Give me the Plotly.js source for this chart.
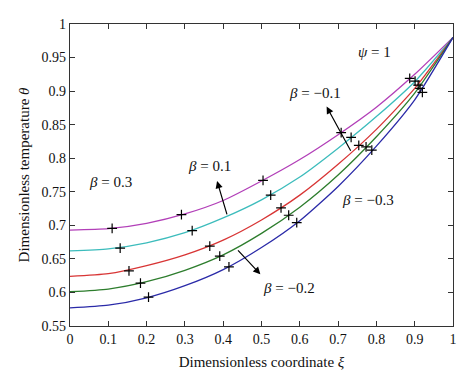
<!DOCTYPE html>
<html>
<head>
<meta charset="utf-8">
<script src="https://cdn.plot.ly/plotly-3.0.1.min.js"></script>
<style>html,body{margin:0;padding:0;background:#fff;}#chart{width:474px;height:387px;}</style>
</head>
<body>
<div id="chart"></div>
<script>
// Dimensionless coordinate xi
const xi = [0, 0.1, 0.2, 0.3, 0.4, 0.5, 0.6, 0.7, 0.8, 0.9, 1.0];
// Curves
const theta_b03  = [0.693, 0.695, 0.703, 0.717, 0.737, 0.766, 0.798, 0.835, 0.876, 0.925, 0.980];
const theta_b01  = [0.662, 0.665, 0.674, 0.689, 0.711, 0.738, 0.772, 0.815, 0.862, 0.914, 0.980];
const theta_bm01 = [0.624, 0.628, 0.640, 0.656, 0.678, 0.708, 0.745, 0.791, 0.843, 0.904, 0.980];
const theta_bm02 = [0.601, 0.605, 0.616, 0.633, 0.656, 0.688, 0.727, 0.775, 0.832, 0.897, 0.980];
const theta_bm03 = [0.577, 0.581, 0.592, 0.610, 0.634, 0.667, 0.707, 0.758, 0.818, 0.887, 0.980];

// "+" marker points on each curve
const mk_b03_x  = [0.110, 0.291, 0.504, 0.708, 0.887];
const mk_b03_y  = [0.6955, 0.716, 0.767, 0.838, 0.919];
const mk_b01_x  = [0.131, 0.319, 0.524, 0.734, 0.901];
const mk_b01_y  = [0.666, 0.692, 0.745, 0.831, 0.915];
const mk_bm01_x = [0.154, 0.365, 0.551, 0.754, 0.909];
const mk_bm01_y = [0.632, 0.669, 0.726, 0.819, 0.909];
const mk_bm02_x = [0.184, 0.391, 0.571, 0.773, 0.914];
const mk_bm02_y = [0.614, 0.654, 0.715, 0.817, 0.904];
const mk_bm03_x = [0.205, 0.415, 0.592, 0.788, 0.920];
const mk_bm03_y = [0.593, 0.638, 0.704, 0.812, 0.898];

const colors = ['#b23fb8', '#3cbcbc', '#d83535', '#2d7d2d', '#2a2aa8'];
const curves = [theta_b03, theta_b01, theta_bm01, theta_bm02, theta_bm03];
const mkx = [mk_b03_x, mk_b01_x, mk_bm01_x, mk_bm02_x, mk_bm03_x];
const mky = [mk_b03_y, mk_b01_y, mk_bm01_y, mk_bm02_y, mk_bm03_y];

const traces = [];
curves.forEach((c, i) => {
  traces.push({x: xi, y: c, mode: 'lines', type: 'scatter', line: {color: colors[i], width: 1.3, shape: 'spline', smoothing: 0.6}, hoverinfo: 'skip'});
});
mkx.forEach((mx, i) => {
  traces.push({x: mx, y: mky[i], mode: 'markers', type: 'scatter',
    marker: {symbol: 'cross-thin', size: 7, color: '#000', line: {color: '#000', width: 1.2}}, hoverinfo: 'skip'});
});

const txtFont = {family: 'Liberation Serif, Times New Roman, serif', size: 15, color: '#111'};
const annotations = [
  {x: 0.794, y: 0.958, text: '<i>ψ</i> = 1', showarrow: false, font: txtFont},
  {x: 0.64, y: 0.897, text: '<i>β</i> = −0.1', showarrow: false, font: txtFont},
  {x: 0.365, y: 0.788, text: '<i>β</i> = 0.1', showarrow: false, font: txtFont},
  {x: 0.106, y: 0.765, text: '<i>β</i> = 0.3', showarrow: false, font: txtFont},
  {x: 0.778, y: 0.738, text: '<i>β</i> = −0.3', showarrow: false, font: txtFont},
  {x: 0.572, y: 0.607, text: '<i>β</i> = −0.2', showarrow: false, font: txtFont},
  // arrows
  {x: 0.670, y: 0.877, ax: 0.735, ay: 0.809, xref: 'x', yref: 'y', axref: 'x', ayref: 'y', text: '', showarrow: true, arrowhead: 2, arrowsize: 1.2, arrowwidth: 1.2, arrowcolor: '#000'},
  {x: 0.384, y: 0.766, ax: 0.411, ay: 0.714, xref: 'x', yref: 'y', axref: 'x', ayref: 'y', text: '', showarrow: true, arrowhead: 2, arrowsize: 1.2, arrowwidth: 1.2, arrowcolor: '#000'},
  {x: 0.497, y: 0.627, ax: 0.435, ay: 0.665, xref: 'x', yref: 'y', axref: 'x', ayref: 'y', text: '', showarrow: true, arrowhead: 2, arrowsize: 1.2, arrowwidth: 1.2, arrowcolor: '#000'}
];

const axFont = {family: 'Liberation Serif, Times New Roman, serif', size: 14, color: '#111'};
const layout = {
  width: 474, height: 387,
  margin: {l: 70, r: 21, t: 24, b: 61},
  paper_bgcolor: '#fff', plot_bgcolor: '#fff',
  showlegend: false,
  font: axFont,
  xaxis: {
    range: [0, 1], tickvals: [0, 0.1, 0.2, 0.3, 0.4, 0.5, 0.6, 0.7, 0.8, 0.9, 1],
    ticks: 'inside', ticklen: 5, tickcolor: '#333', showline: true, linecolor: '#333', linewidth: 1.2,
    mirror: 'allticks', showgrid: false, zeroline: false, tickfont: axFont,
    title: {text: 'Dimensionless coordinate <i>ξ</i>', font: {family: 'Liberation Serif, Times New Roman, serif', size: 15, color: '#111'}, standoff: 10}
  },
  yaxis: {
    range: [0.55, 1], tickvals: [0.55, 0.6, 0.65, 0.7, 0.75, 0.8, 0.85, 0.9, 0.95, 1],
    ticks: 'inside', ticklen: 5, tickcolor: '#333', showline: true, linecolor: '#333', linewidth: 1.2,
    mirror: 'allticks', showgrid: false, zeroline: false, tickfont: axFont,
    title: {text: 'Dimensionless temperature <i>θ</i>', font: {family: 'Liberation Serif, Times New Roman, serif', size: 15, color: '#111'}, standoff: 8}
  },
  annotations: annotations
};

Plotly.newPlot('chart', traces, layout, {staticPlot: true, displayModeBar: false});
</script>
</body>
</html>
